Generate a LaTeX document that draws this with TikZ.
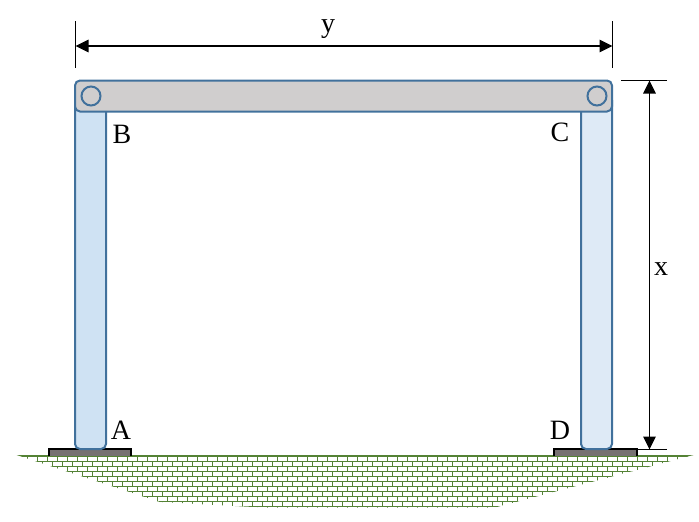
\documentclass[tikz,border=0pt]{standalone}
\usepackage{fontspec}
\setmainfont{Liberation Serif}
\usetikzlibrary{arrows.meta}
\definecolor{brickgreen}{HTML}{548235}
\definecolor{barblue}{HTML}{41719C}
\definecolor{postleft}{HTML}{CFE2F3}
\definecolor{postright}{HTML}{DEEAF6}
\definecolor{beamgray}{HTML}{D0CECE}
\definecolor{basegray}{HTML}{767171}
\tikzset{
	bar/.style={draw=barblue,line width=2pt,rounded corners=5pt},
	pin/.style={draw=barblue,line width=2pt},
	footing/.style={fill=basegray},
	footedge/.style={line width=2.2pt},
	dim/.style={line width=1.1pt,{Triangle[length=13pt,width=12.5pt]}-{Triangle[length=13pt,width=12.5pt]}},
	ext/.style={line width=1.1pt},
	brick/.style={brickgreen,line width=1.1pt},
	lab/.style={font=\fontsize{28}{28}\selectfont,inner sep=0pt},
}
\begin{document}
\begin{tikzpicture}[x=1pt,y=-1pt]
	\useasboundingbox (0,0) rectangle (699,522);
	% ground
	\begin{scope}
		\clip (16.5,455) -- (160,502) -- (263,507.5) -- (495,507.5) -- (693.5,455) -- cycle;
		\foreach \r in {0,...,10} {
			\pgfmathsetmacro{\ytop}{456+5.07*\r}
			\draw[brick] (0,\ytop) -- (699,\ytop);
			\pgfmathsetmacro{\xstart}{mod(\r,2)==0 ? 7.3 : 2.3}
			\foreach \c in {0,...,69} {
				\draw[brick] (\xstart+10*\c,\ytop) -- ++(0,5.07);
			}
		}
		\foreach \c in {0,...,69} {
			\draw[brick] (2.3+10*\c,454) -- ++(0,2);
		}
	\end{scope}
	% footings
	\fill[footing] (49,449) rectangle (131,456);
	\draw[footedge] (49,456) -- (49,449) -- (131,449) -- (131,456);
	\fill[footing] (554,449) rectangle (637,456);
	\draw[footedge] (554,456) -- (554,449) -- (637,449) -- (637,456);
	% posts and beam
	\draw[bar,fill=postleft] (75,100) -- (75,449) -- (106,449) -- (106,100);
	\draw[bar,fill=postright] (581,100) -- (581,449) -- (612,449) -- (612,100);
	\draw[bar,fill=beamgray] (75,80.5) rectangle (612,111.5);
	\draw[pin] (91,96) circle [radius=9.5];
	\draw[pin] (597,96) circle [radius=9.5];
	% dimensions
	\coordinate (yl) at (75.5,46);
	\coordinate (yr) at (612.5,46);
	\coordinate (xt) at (649.5,80.5);
	\coordinate (xb) at (649.5,449.5);
	\draw[ext] (75.5,21) -- (75.5,68);
	\draw[ext] (612.5,21) -- (612.5,68);
	\draw[ext] (621,80.5) -- (667,80.5);
	\draw[ext] (637,449.5) -- (667,449.5);
	\draw[dim] (yl) -- (yr);
	\draw[dim] (xt) -- (xb);
	% labels
	\node[lab] (laby) at (328,29) {y};
	\node[lab] (labx) at (661,269) {x};
	\node[lab] (labb) at (122,134) {B};
	\node[lab] (labc) at (560,132) {C};
	\node[lab] (laba) at (121,430) {A};
	\node[lab] (labd) at (560,430) {D};
\end{tikzpicture}
\end{document}
